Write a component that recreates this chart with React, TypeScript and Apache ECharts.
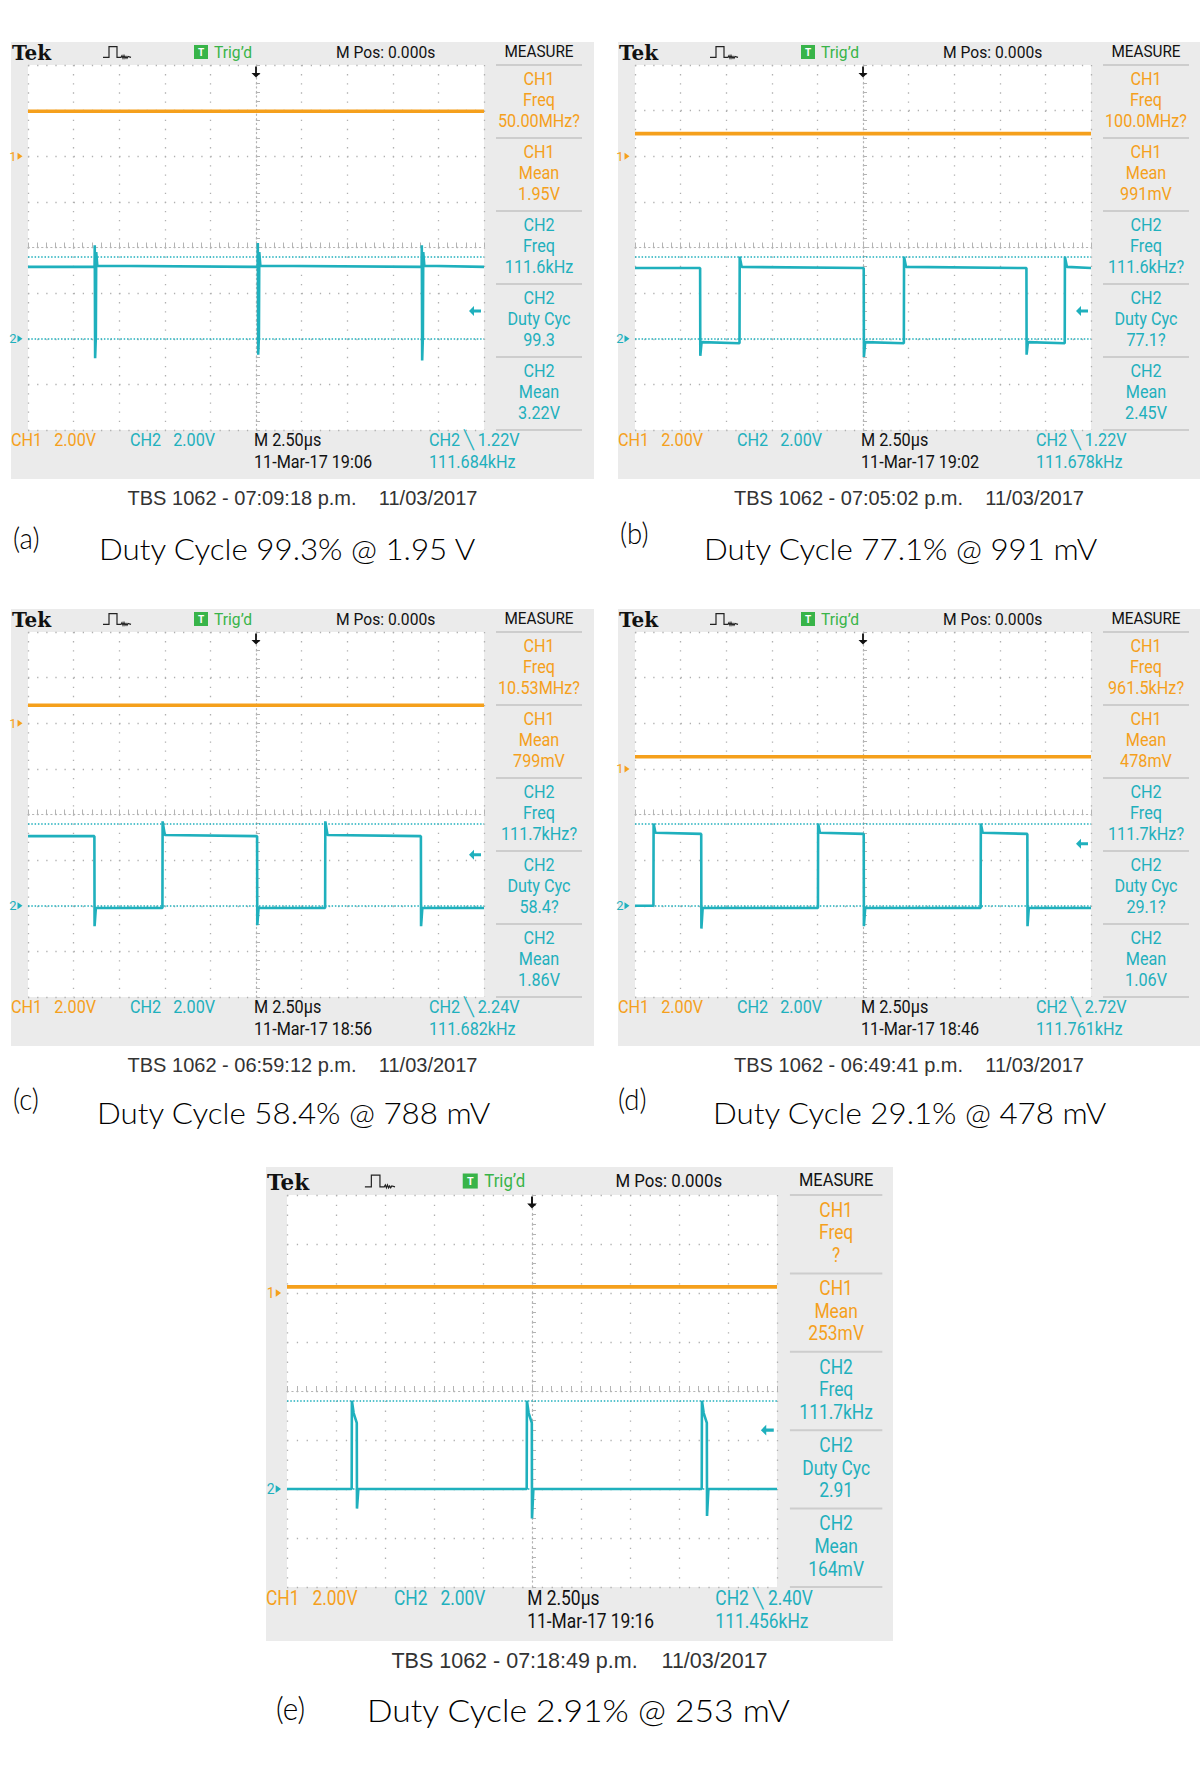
import React, { useEffect, useRef } from "react";
import * as echarts from "echarts";

const ORANGE = "#f5a01c";
const CYAN = "#1fb0bd";
const GREEN = "#38b449";
const GREY_BG = "#ebebeb";
const DOT = "#b0b0b0";

// ---------------- data ----------------
const panelLabels = ["(a)", "(b)", "(c)", "(d)", "(e)"];
const titles = [
  "Duty Cycle 99.3% @ 1.95 V",
  "Duty Cycle 77.1% @ 991 mV",
  "Duty Cycle 58.4% @ 788 mV",
  "Duty Cycle 29.1% @ 478 mV",
  "Duty Cycle 2.91% @ 253 mV",
];
const captions = [
  "TBS 1062 - 07:09:18 p.m.\u00a0\u00a0\u00a0 11/03/2017",
  "TBS 1062 - 07:05:02 p.m.\u00a0\u00a0\u00a0 11/03/2017",
  "TBS 1062 - 06:59:12 p.m.\u00a0\u00a0\u00a0 11/03/2017",
  "TBS 1062 - 06:49:41 p.m.\u00a0\u00a0\u00a0 11/03/2017",
  "TBS 1062 - 07:18:49 p.m.\u00a0\u00a0\u00a0 11/03/2017",
];
const dateStamps = ["11-Mar-17 19:06", "11-Mar-17 19:02", "11-Mar-17 18:56", "11-Mar-17 18:46", "11-Mar-17 19:16"];
const trigReadouts = ["CH2 \u2572 1.22V", "CH2 \u2572 1.22V", "CH2 \u2572 2.24V", "CH2 \u2572 2.72V", "CH2 \u2572 2.40V"];
const freqReadouts = ["111.684kHz", "111.678kHz", "111.682kHz", "111.761kHz", "111.456kHz"];
const scaleReadouts = ["CH1\u00a0\u00a0 2.00V", "CH2\u00a0\u00a0 2.00V", "M 2.50\u00b5s"];

const measureA = [["CH1", "Freq", "50.00MHz?"], ["CH1", "Mean", "1.95V"], ["CH2", "Freq", "111.6kHz"], ["CH2", "Duty Cyc", "99.3"], ["CH2", "Mean", "3.22V"]];
const measureB = [["CH1", "Freq", "100.0MHz?"], ["CH1", "Mean", "991mV"], ["CH2", "Freq", "111.6kHz?"], ["CH2", "Duty Cyc", "77.1?"], ["CH2", "Mean", "2.45V"]];
const measureC = [["CH1", "Freq", "10.53MHz?"], ["CH1", "Mean", "799mV"], ["CH2", "Freq", "111.7kHz?"], ["CH2", "Duty Cyc", "58.4?"], ["CH2", "Mean", "1.86V"]];
const measureD = [["CH1", "Freq", "961.5kHz?"], ["CH1", "Mean", "478mV"], ["CH2", "Freq", "111.7kHz?"], ["CH2", "Duty Cyc", "29.1?"], ["CH2", "Mean", "1.06V"]];
const measureE = [["CH1", "Freq", "?"], ["CH1", "Mean", "253mV"], ["CH2", "Freq", "111.7kHz"], ["CH2", "Duty Cyc", "2.91"], ["CH2", "Mean", "164mV"]];
const measures = [measureA, measureB, measureC, measureD, measureE];

const timeMin = -12.5; // µs
const timeMax = 12.5;
const timePerDiv = 2.5;
const voltsPerDiv = 2;
const ch1GroundDiv = [2, 2, 2, 3, 2]; // divisions below the top of the screen
const ch2GroundDiv = [6, 6, 6, 6, 6];
const ch1Level = [1.97, 0.99, 0.79, 0.53, 0.25]; // V
const ch2RefLevels = [0, 3.6]; // V (dotted reference traces)
const ch2TrigLevel = [1.22, 1.22, 2.24, 2.72, 2.4]; // V

// CH2 traces: [time µs, volts]
const ch2A = [
  [-12.5, 3.15], [-8.85, 3.15], [-8.84, 4.1], [-8.82, -0.85], [-8.78, 0.1], [-8.76, 3.8], [-8.7, 3.2],
  [0.09, 3.15], [0.1, 4.2], [0.12, -0.7], [0.16, 0.1], [0.18, 3.8], [0.24, 3.2],
  [9.08, 3.15], [9.09, 4.1], [9.11, -0.95], [9.15, 0.1], [9.17, 3.8], [9.23, 3.2], [12.5, 3.15],
];
const ch2B = [
  [-12.5, 3.1], [-8.93, 3.1], [-8.92, -0.75], [-8.85, -0.15], [-6.77, -0.2], [-6.76, 3.6], [-6.65, 3.15],
  [0.04, 3.1], [0.05, -0.8], [0.12, -0.15], [2.24, -0.2], [2.25, 3.6], [2.36, 3.15],
  [8.96, 3.1], [8.97, -0.7], [9.04, -0.15], [11.06, -0.2], [11.07, 3.6], [11.18, 3.15], [12.5, 3.1],
];
const ch2C = [
  [-12.5, 3.05], [-8.86, 3.05], [-8.85, -0.9], [-8.78, -0.1], [-5.13, -0.1], [-5.12, 3.7], [-5.0, 3.1],
  [0.06, 3.05], [0.07, -0.85], [0.14, -0.1], [3.79, -0.1], [3.8, 3.7], [3.92, 3.1],
  [9.04, 3.05], [9.05, -0.9], [9.12, -0.1], [12.5, -0.1],
];
const ch2D = [
  [-12.5, 0], [-11.49, 0], [-11.48, 3.6], [-11.38, 3.2], [-8.87, 3.15], [-8.86, -1.0], [-8.79, -0.1],
  [-2.47, -0.1], [-2.46, 3.6], [-2.36, 3.2], [0.04, 3.15], [0.05, -0.9], [0.12, -0.1],
  [6.45, -0.1], [6.46, 3.6], [6.56, 3.2], [9.01, 3.15], [9.02, -0.9], [9.09, -0.1], [12.5, -0.1],
];
const ch2E = [
  [-12.5, 0], [-9.2, 0], [-9.19, 3.6], [-9.1, 3.1], [-8.94, 2.7], [-8.93, -0.8], [-8.86, 0],
  [-0.27, 0], [-0.26, 3.6], [-0.17, 3.1], [-0.01, 2.7], [0.0, -1.2], [0.07, 0],
  [8.66, 0], [8.67, 3.6], [8.76, 3.1], [8.92, 2.7], [8.93, -1.1], [9.0, 0], [12.5, 0],
];
const ch2Traces = [ch2A, ch2B, ch2C, ch2D, ch2E];

// ---------------- layout ----------------
const layouts = [
  { grey: [11, 42, 583, 437], plot: [28, 65, 456, 365], s: 1, label: [13, 538], title: [99, 548] },
  { grey: [618, 42, 582, 437], plot: [635, 65, 456, 365], s: 1, label: [620, 533], title: [704, 548] },
  { grey: [11, 609, 583, 437], plot: [28, 632, 456, 365], s: 1, label: [13, 1099], title: [97, 1112] },
  { grey: [618, 609, 582, 437], plot: [635, 632, 456, 365], s: 1, label: [618, 1099], title: [713, 1112] },
  { grey: [266, 1167, 627, 474], plot: [287, 1195, 490, 392], s: 1.075, label: [276, 1708], title: [367, 1710] },
];

const SCOPE_FONT = "Roboto, 'Liberation Sans', sans-serif";

function txt(x: number, y: number, text: string, size: number, color: string, o: any = {}) {
  const align = o.align || "left";
  return {
    type: "text",
    x,
    y,
    scaleX: o.sx ?? 1,
    z: 20,
    silent: true,
    style: {
      text,
      fill: color,
      font: `${o.weight || "normal"} ${size}px ${o.family || SCOPE_FONT}`,
      textAlign: align,
      align,
      textVerticalAlign: "middle",
      verticalAlign: "middle",
    },
  };
}

function buildOption() {
  const grid: any[] = [];
  const xAxis: any[] = [];
  const yAxis: any[] = [];
  const series: any[] = [];
  const graphics: any[] = [];

  layouts.forEach((L, i) => {
    const [gx, gy, gw, gh] = L.grey;
    const [px, py, pw, ph] = L.plot;
    const s = L.s;
    const divPx = pw / 10;
    const dotPattern = [1.3, divPx / 5 - 1.3];
    const centerPattern = [1.2, divPx / 10 - 1.2];

    grid.push({ left: px, top: py, width: pw, height: ph, show: true, backgroundColor: "#ffffff", borderWidth: 0 });

    xAxis.push({
      gridIndex: i,
      type: "value",
      min: timeMin,
      max: timeMax,
      interval: timePerDiv,
      axisLabel: { show: false },
      axisLine: { show: true, onZero: true, onZeroAxisIndex: 3 * i, lineStyle: { color: "#b4b4b4", width: 1.2, type: centerPattern } },
      axisTick: { show: true, inside: true, length: 5, lineStyle: { color: "#b4b4b4" } },
      minorTick: { show: true, splitNumber: 5, length: 5, lineStyle: { color: "#b4b4b4" } },
      splitLine: { show: true, lineStyle: { color: DOT, width: 1.3, type: dotPattern } },
    });

    yAxis.push({
      gridIndex: i,
      type: "value",
      min: -4,
      max: 4,
      interval: 1,
      axisLabel: { show: false },
      axisLine: { show: true, onZero: true, onZeroAxisIndex: i, lineStyle: { color: "#b4b4b4", width: 1.2, type: centerPattern } },
      axisTick: { show: true, inside: true, length: 4, lineStyle: { color: "#b4b4b4" } },
      minorTick: { show: true, splitNumber: 5, length: 4, lineStyle: { color: "#b4b4b4" } },
      splitLine: { show: true, lineStyle: { color: DOT, width: 1.3, type: dotPattern } },
    });
    const ch1Top = ch1GroundDiv[i] * voltsPerDiv;
    yAxis.push({ gridIndex: i, type: "value", min: ch1Top - 8 * voltsPerDiv, max: ch1Top, show: false });
    const ch2Top = ch2GroundDiv[i] * voltsPerDiv;
    yAxis.push({ gridIndex: i, type: "value", min: ch2Top - 8 * voltsPerDiv, max: ch2Top, show: false });

    series.push({
      type: "line",
      xAxisIndex: i,
      yAxisIndex: 3 * i + 1,
      data: [[timeMin, ch1Level[i]], [timeMax, ch1Level[i]]],
      symbol: "none",
      silent: true,
      z: 4,
      lineStyle: { color: ORANGE, width: 3.6 },
      markPoint: {
        silent: true,
        data: [
          {
            coord: [timeMin, 0],
            symbol: "path://M0,0 L8,5 L0,10 Z",
            symbolSize: [5 * s, 7 * s],
            symbolOffset: [-8 * s, 0],
            itemStyle: { color: ORANGE },
            label: { show: true, formatter: "1", position: "left", distance: 1, color: ORANGE, fontSize: 13 * s, fontFamily: SCOPE_FONT },
          },
        ],
      },
    });

    series.push({
      type: "line",
      xAxisIndex: i,
      yAxisIndex: 3 * i + 2,
      data: ch2Traces[i],
      symbol: "none",
      silent: true,
      z: 5,
      lineStyle: { color: CYAN, width: 2.6 },
      markLine: {
        silent: true,
        symbol: ["none", "none"],
        label: { show: false },
        lineStyle: { color: CYAN, width: 1.5, type: [1.5, 1.8] },
        data: ch2RefLevels.map((v) => ({ yAxis: v })),
      },
      markPoint: {
        silent: true,
        data: [
          {
            coord: [timeMin, 0],
            symbol: "path://M0,0 L8,5 L0,10 Z",
            symbolSize: [5 * s, 7 * s],
            symbolOffset: [-8 * s, 0],
            itemStyle: { color: CYAN },
            label: { show: true, formatter: "2", position: "left", distance: 1, color: CYAN, fontSize: 13 * s, fontFamily: SCOPE_FONT },
          },
          {
            coord: [timeMax, ch2TrigLevel[i]],
            symbol: "path://M0,5 L5,0 L5,3.5 L12,3.5 L12,6.5 L5,6.5 L5,10 Z",
            symbolSize: [12 * s, 10 * s],
            symbolOffset: [-9 * s, 0],
            itemStyle: { color: CYAN },
            label: { show: false },
          },
          {
            coord: [0, ch2Top],
            symbol: "path://M4,0 L6,0 L6,7 L10,7 L5,12 L0,7 L4,7 Z",
            symbolSize: [9 * s, 11 * s],
            symbolOffset: [0, 7 * s],
            itemStyle: { color: "#111" },
            label: { show: false },
          },
        ],
      },
    });

    // ---- panel decorations ----
    graphics.push({ type: "rect", z: -10, silent: true, shape: { x: gx, y: gy, width: gw, height: gh }, style: { fill: GREY_BG } });

    const ty = py - 13 * s;
    graphics.push(txt(gx + 1 * s, ty + 1, "Tek", 20 * s, "#111", { weight: "bold", family: "'DejaVu Serif', serif" }));
    const ix = gx + 92 * s;
    const iconPts = [[0, 6], [6, 6], [6, -6], [14, -6], [14, 6], [18, 6], [19, 4], [20, 7], [21, 4], [22, 7], [23, 5], [24, 7], [25, 5], [28, 6]];
    graphics.push({
      type: "polyline",
      z: 20,
      silent: true,
      shape: { points: iconPts.map((p) => [ix + p[0] * s, ty + p[1] * s * 0.9]) },
      style: { stroke: "#222", lineWidth: 1.2, fill: null },
    });
    graphics.push({ type: "rect", z: 20, silent: true, shape: { x: gx + 183 * s, y: ty - 7 * s, width: 14 * s, height: 14 * s }, style: { fill: GREEN } });
    graphics.push(txt(gx + 190 * s, ty + 0.5, "T", 10 * s, "#fff", { align: "center", weight: "bold" }));
    graphics.push(txt(gx + 203 * s, ty, "Trig\u2019d", 17 * s, GREEN, { sx: 0.92 }));
    graphics.push(txt(gx + 325 * s, ty, "M Pos: 0.000s", 17 * s, "#111", { sx: 0.92 }));

    const mx = px + pw + 55 * s;
    graphics.push(txt(mx, py - 14 * s, "MEASURE", 17 * s, "#111", { align: "center", sx: 0.9 }));
    const secH = ph / 5;
    for (let k = 0; k <= 5; k++) {
      graphics.push({
        type: "line",
        z: 20,
        silent: true,
        shape: { x1: px + pw + 12 * s, y1: py + k * secH, x2: px + pw + 98 * s, y2: py + k * secH },
        style: { stroke: "#cdcdcd", lineWidth: 2 },
      });
    }
    measures[i].forEach((item, k) => {
      const col = k < 2 ? ORANGE : CYAN;
      item.forEach((line, j) => {
        graphics.push(txt(mx, py + k * secH + (14 + 21 * j) * s, line, 18 * s, col, { align: "center", sx: 0.9 }));
      });
    });

    const r1 = py + ph + 10 * s;
    const r2 = py + ph + 32 * s;
    graphics.push(txt(gx, r1, scaleReadouts[0], 18 * s, ORANGE, { sx: 0.9 }));
    graphics.push(txt(gx + 119 * s, r1, scaleReadouts[1], 18 * s, CYAN, { sx: 0.9 }));
    graphics.push(txt(gx + 243 * s, r1, scaleReadouts[2], 18 * s, "#111", { sx: 0.9 }));
    graphics.push(txt(gx + 243 * s, r2, dateStamps[i], 18 * s, "#111", { sx: 0.9 }));
    graphics.push(txt(gx + 418 * s, r1, trigReadouts[i], 18 * s, CYAN, { sx: 0.9 }));
    graphics.push(txt(gx + 418 * s, r2, freqReadouts[i], 18 * s, CYAN, { sx: 0.9 }));

    graphics.push(txt(gx + gw / 2, gy + gh + 19 * s, captions[i], 20 * s, "#333", { align: "center", family: "'Liberation Sans', Arial, sans-serif" }));
    graphics.push(txt(L.label[0], L.label[1], panelLabels[i], 29 * s, "#000", { family: "Lato, sans-serif", weight: 300, sx: 0.95 }));
    graphics.push(txt(L.title[0], L.title[1], titles[i], 29 * s, "#000", { family: "Lato, sans-serif", weight: 300, sx: 1.08 }));
  });

  return {
    animation: false,
    backgroundColor: "#ffffff",
    grid,
    xAxis,
    yAxis,
    series,
    graphic: { elements: graphics },
  };
}

export default function App() {
  const ref = useRef<HTMLDivElement>(null);
  useEffect(() => {
    document.body.style.margin = "0";
    if (!ref.current) return;
    const chart = echarts.init(ref.current, undefined, { renderer: "svg" });
    chart.setOption(buildOption() as any);
    return () => chart.dispose();
  }, []);
  return <div ref={ref} style={{ width: 1200, height: 1769 }} />;
}
